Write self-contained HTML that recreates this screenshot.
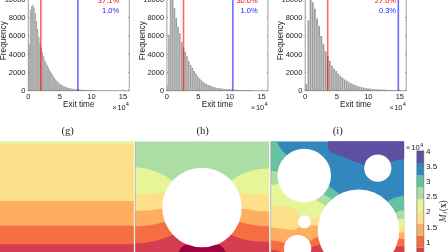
<!DOCTYPE html>
<html><head><meta charset="utf-8"><title>figure</title>
<style>html,body{margin:0;padding:0;background:#fff;overflow:hidden}body{width:448px;height:252px}</style></head>
<body>
<svg width="448" height="252" viewBox="0 0 448 252" style="display:block">
<rect width="448" height="252" fill="#fff"/>
<path d="M28.60 90.70 L28.60 44.00 L29.80 44.00 L29.80 9.70 L31.00 9.70 L31.00 6.35 L32.20 6.35 L32.20 4.56 L33.40 4.56 L33.40 7.27 L34.60 7.27 L34.60 13.00 L35.80 13.00 L35.80 21.11 L37.00 21.11 L37.00 29.10 L38.20 29.10 L38.20 36.63 L39.40 36.63 L39.40 42.91 L40.60 42.91 L40.60 48.20 L41.80 48.20 L41.80 52.58 L43.00 52.58 L43.00 56.37 L44.20 56.37 L44.20 60.17 L45.40 60.17 L45.40 62.80 L46.60 62.80 L46.60 65.20 L47.80 65.20 L47.80 67.60 L49.00 67.60 L49.00 70.00 L50.20 70.00 L50.20 72.11 L51.40 72.11 L51.40 74.08 L52.60 74.08 L52.60 76.05 L53.80 76.05 L53.80 78.02 L55.00 78.02 L55.00 79.60 L56.20 79.60 L56.20 80.80 L57.40 80.80 L57.40 82.00 L58.60 82.00 L58.60 83.20 L59.80 83.20 L59.80 84.21 L61.00 84.21 L61.00 84.84 L62.20 84.84 L62.20 85.46 L63.40 85.46 L63.40 86.09 L64.60 86.09 L64.60 86.72 L65.80 86.72 L65.80 87.34 L67.00 87.34 L67.00 87.70 L68.20 87.70 L68.20 87.98 L69.40 87.98 L69.40 88.25 L70.60 88.25 L70.60 88.52 L71.80 88.52 L71.80 88.75 L73.00 88.75 L73.00 88.89 L74.20 88.89 L74.20 89.03 L75.40 89.03 L75.40 89.17 L76.60 89.17 L76.60 89.31 L77.80 89.31 L77.80 89.43 L79.00 89.43 L79.00 89.53 L80.20 89.53 L80.20 89.63 L81.40 89.63 L81.40 89.73 L82.60 89.73 L82.60 89.83 L83.80 89.83 L83.80 89.92 L85.00 89.92 L85.00 89.97 L86.20 89.97 L86.20 90.02 L87.40 90.02 L87.40 90.08 L88.60 90.08 L88.60 90.13 L89.80 90.13 L89.80 90.18 L91.00 90.18 L91.00 90.23 L92.20 90.23 L92.20 90.28 L93.40 90.28 L93.40 90.31 L94.60 90.31 L94.60 90.35 L95.80 90.35 L95.80 90.39 L97.00 90.39 L97.00 90.70 Z" fill="#9c9c9c"/>
<path d="M28.60 90.70 V44.00 M29.80 90.70 V9.70 M31.00 90.70 V6.35 M32.20 90.70 V4.56 M33.40 90.70 V7.27 M34.60 90.70 V13.00 M35.80 90.70 V21.11 M37.00 90.70 V29.10 M38.20 90.70 V36.63 M39.40 90.70 V42.91 M40.60 90.70 V48.20 M41.80 90.70 V52.58 M43.00 90.70 V56.37 M44.20 90.70 V60.17 M45.40 90.70 V62.80 M46.60 90.70 V65.20 M47.80 90.70 V67.60 M49.00 90.70 V70.00 M50.20 90.70 V72.11 M51.40 90.70 V74.08 M52.60 90.70 V76.05 M53.80 90.70 V78.02 M55.00 90.70 V79.60 M56.20 90.70 V80.80 M57.40 90.70 V82.00 M58.60 90.70 V83.20 M59.80 90.70 V84.21 M61.00 90.70 V84.84 M62.20 90.70 V85.46 M63.40 90.70 V86.09 M64.60 90.70 V86.72 M65.80 90.70 V87.34 M67.00 90.70 V87.70 M68.20 90.70 V87.98 M69.40 90.70 V88.25 M70.60 90.70 V88.52 M71.80 90.70 V88.75 M73.00 90.70 V88.89 M74.20 90.70 V89.03 M75.40 90.70 V89.17 M76.60 90.70 V89.31 M77.80 90.70 V89.43 M79.00 90.70 V89.53 M80.20 90.70 V89.63 M81.40 90.70 V89.73 M82.60 90.70 V89.83 M83.80 90.70 V89.92 M85.00 90.70 V89.97 M86.20 90.70 V90.02 M87.40 90.70 V90.08 M88.60 90.70 V90.13 M89.80 90.70 V90.18 M91.00 90.70 V90.23 M92.20 90.70 V90.28 M93.40 90.70 V90.31 M94.60 90.70 V90.35 M95.80 90.70 V90.39 " stroke="#efefef" stroke-width="0.31" fill="none"/>
<path d="M28.30 -5 V90.70 H129.30 V-5" stroke="#6a6a6a" stroke-width="0.65" fill="none"/>
<path d="M28.30 90.70 h1.2 M129.30 90.70 h-1.2 M28.30 72.40 h1.2 M129.30 72.40 h-1.2 M28.30 54.10 h1.2 M129.30 54.10 h-1.2 M28.30 35.80 h1.2 M129.30 35.80 h-1.2 M28.30 17.50 h1.2 M129.30 17.50 h-1.2 M28.30 -0.80 h1.2 M129.30 -0.80 h-1.2 M28.30 90.70 v-1.2 M59.86 90.70 v-1.2 M91.43 90.70 v-1.2 M122.99 90.70 v-1.2 " stroke="#6a6a6a" stroke-width="0.65" fill="none"/>
<path d="M40.80 -5 V90.70" stroke="#f00" stroke-opacity="0.6" stroke-width="1.6"/>
<path d="M77.90 -5 V90.70" stroke="#00f" stroke-opacity="0.55" stroke-width="1.7"/>
<text x="25.50" y="93.20" font-family="'Liberation Sans', Arial, sans-serif" font-size="7.5" fill="#222" text-anchor="end">0</text>
<text x="25.50" y="74.90" font-family="'Liberation Sans', Arial, sans-serif" font-size="7.5" fill="#222" text-anchor="end">2000</text>
<text x="25.50" y="56.60" font-family="'Liberation Sans', Arial, sans-serif" font-size="7.5" fill="#222" text-anchor="end">4000</text>
<text x="25.50" y="38.30" font-family="'Liberation Sans', Arial, sans-serif" font-size="7.5" fill="#222" text-anchor="end">6000</text>
<text x="25.50" y="20.00" font-family="'Liberation Sans', Arial, sans-serif" font-size="7.5" fill="#222" text-anchor="end">8000</text>
<text x="25.50" y="1.70" font-family="'Liberation Sans', Arial, sans-serif" font-size="7.5" fill="#222" text-anchor="end">10000</text>
<text x="28.30" y="99.20" font-family="'Liberation Sans', Arial, sans-serif" font-size="7.5" fill="#222" text-anchor="middle">0</text>
<text x="59.86" y="99.20" font-family="'Liberation Sans', Arial, sans-serif" font-size="7.5" fill="#222" text-anchor="middle">5</text>
<text x="91.43" y="99.20" font-family="'Liberation Sans', Arial, sans-serif" font-size="7.5" fill="#222" text-anchor="middle">10</text>
<text x="122.99" y="99.20" font-family="'Liberation Sans', Arial, sans-serif" font-size="7.5" fill="#222" text-anchor="middle">15</text>
<text x="78.80" y="106.80" font-family="'Liberation Sans', Arial, sans-serif" font-size="8.2" fill="#222" text-anchor="middle">Exit time</text>
<text x="116.80" y="109.6" font-family="'Liberation Sans', Arial, sans-serif" font-size="7.8" fill="#444" text-anchor="end">×</text>
<text x="117.40" y="109.6" font-family="'Liberation Sans', Arial, sans-serif" font-size="7.3" fill="#222">10<tspan dy="-3.3" dx="0.3" font-size="5.7">4</tspan></text>
<text transform="translate(5.90 40.70) rotate(-90)" font-family="'Liberation Sans', Arial, sans-serif" font-size="8.3" fill="#222" text-anchor="middle">Frequency</text>
<text x="119.10" y="2.70" font-family="'Liberation Sans', Arial, sans-serif" font-size="7.5" fill="#f00" text-anchor="end">37.1%</text>
<text x="119.10" y="12.70" font-family="'Liberation Sans', Arial, sans-serif" font-size="7.5" fill="#1a1aff" text-anchor="end">1.0%</text>
<path d="M167.10 90.70 L167.10 85.00 L168.00 85.00 L168.00 34.80 L169.80 34.80 L169.80 -3.00 L171.60 -3.00 L171.60 -3.00 L173.40 -3.00 L173.40 8.00 L175.20 8.00 L175.20 17.90 L177.00 17.90 L177.00 26.80 L178.80 26.80 L178.80 33.00 L180.60 33.00 L180.60 42.00 L182.40 42.00 L182.40 47.40 L184.20 47.40 L184.20 51.73 L186.00 51.73 L186.00 56.15 L187.80 56.15 L187.80 60.90 L189.60 60.90 L189.60 65.00 L191.40 65.00 L191.40 68.09 L193.20 68.09 L193.20 71.03 L195.00 71.03 L195.00 73.78 L196.80 73.78 L196.80 76.54 L198.60 76.54 L198.60 78.48 L200.40 78.48 L200.40 80.25 L202.20 80.25 L202.20 82.02 L204.00 82.02 L204.00 83.32 L205.80 83.32 L205.80 84.16 L207.60 84.16 L207.60 85.00 L209.40 85.00 L209.40 85.80 L211.20 85.80 L211.20 86.39 L213.00 86.39 L213.00 86.98 L214.80 86.98 L214.80 87.57 L216.60 87.57 L216.60 88.06 L218.40 88.06 L218.40 88.28 L220.20 88.28 L220.20 88.51 L222.00 88.51 L222.00 88.73 L223.80 88.73 L223.80 88.95 L225.60 88.95 L225.60 89.18 L227.40 89.18 L227.40 89.30 L229.20 89.30 L229.20 89.42 L231.00 89.42 L231.00 89.54 L232.80 89.54 L232.80 89.65 L234.60 89.65 L234.60 89.77 L236.40 89.77 L236.40 89.85 L238.20 89.85 L238.20 89.92 L240.00 89.92 L240.00 90.00 L241.80 90.00 L241.80 90.07 L243.60 90.07 L243.60 90.14 L245.40 90.14 L245.40 90.21 L247.20 90.21 L247.20 90.26 L249.00 90.26 L249.00 90.32 L250.80 90.32 L250.80 90.37 L252.60 90.37 L252.60 90.70 Z" fill="#9c9c9c"/>
<path d="M167.10 90.70 V85.00 M168.00 90.70 V34.80 M169.80 90.70 V-3.00 M171.60 90.70 V-3.00 M173.40 90.70 V8.00 M175.20 90.70 V17.90 M177.00 90.70 V26.80 M178.80 90.70 V33.00 M180.60 90.70 V42.00 M182.40 90.70 V47.40 M184.20 90.70 V51.73 M186.00 90.70 V56.15 M187.80 90.70 V60.90 M189.60 90.70 V65.00 M191.40 90.70 V68.09 M193.20 90.70 V71.03 M195.00 90.70 V73.78 M196.80 90.70 V76.54 M198.60 90.70 V78.48 M200.40 90.70 V80.25 M202.20 90.70 V82.02 M204.00 90.70 V83.32 M205.80 90.70 V84.16 M207.60 90.70 V85.00 M209.40 90.70 V85.80 M211.20 90.70 V86.39 M213.00 90.70 V86.98 M214.80 90.70 V87.57 M216.60 90.70 V88.06 M218.40 90.70 V88.28 M220.20 90.70 V88.51 M222.00 90.70 V88.73 M223.80 90.70 V88.95 M225.60 90.70 V89.18 M227.40 90.70 V89.30 M229.20 90.70 V89.42 M231.00 90.70 V89.54 M232.80 90.70 V89.65 M234.60 90.70 V89.77 M236.40 90.70 V89.85 M238.20 90.70 V89.92 M240.00 90.70 V90.00 M241.80 90.70 V90.07 M243.60 90.70 V90.14 M245.40 90.70 V90.21 M247.20 90.70 V90.26 M249.00 90.70 V90.32 M250.80 90.70 V90.37 " stroke="#efefef" stroke-width="0.47" fill="none"/>
<path d="M166.90 -5 V90.70 H267.90 V-5" stroke="#6a6a6a" stroke-width="0.65" fill="none"/>
<path d="M166.90 90.70 h1.2 M267.90 90.70 h-1.2 M166.90 72.40 h1.2 M267.90 72.40 h-1.2 M166.90 54.10 h1.2 M267.90 54.10 h-1.2 M166.90 35.80 h1.2 M267.90 35.80 h-1.2 M166.90 17.50 h1.2 M267.90 17.50 h-1.2 M166.90 -0.80 h1.2 M267.90 -0.80 h-1.2 M166.90 90.70 v-1.2 M198.46 90.70 v-1.2 M230.02 90.70 v-1.2 M261.59 90.70 v-1.2 " stroke="#6a6a6a" stroke-width="0.65" fill="none"/>
<path d="M183.50 -5 V90.70" stroke="#f00" stroke-opacity="0.6" stroke-width="1.6"/>
<path d="M232.80 -5 V90.70" stroke="#00f" stroke-opacity="0.55" stroke-width="1.7"/>
<text x="164.10" y="93.20" font-family="'Liberation Sans', Arial, sans-serif" font-size="7.5" fill="#222" text-anchor="end">0</text>
<text x="164.10" y="74.90" font-family="'Liberation Sans', Arial, sans-serif" font-size="7.5" fill="#222" text-anchor="end">2000</text>
<text x="164.10" y="56.60" font-family="'Liberation Sans', Arial, sans-serif" font-size="7.5" fill="#222" text-anchor="end">4000</text>
<text x="164.10" y="38.30" font-family="'Liberation Sans', Arial, sans-serif" font-size="7.5" fill="#222" text-anchor="end">6000</text>
<text x="164.10" y="20.00" font-family="'Liberation Sans', Arial, sans-serif" font-size="7.5" fill="#222" text-anchor="end">8000</text>
<text x="164.10" y="1.70" font-family="'Liberation Sans', Arial, sans-serif" font-size="7.5" fill="#222" text-anchor="end">10000</text>
<text x="166.90" y="99.20" font-family="'Liberation Sans', Arial, sans-serif" font-size="7.5" fill="#222" text-anchor="middle">0</text>
<text x="198.46" y="99.20" font-family="'Liberation Sans', Arial, sans-serif" font-size="7.5" fill="#222" text-anchor="middle">5</text>
<text x="230.02" y="99.20" font-family="'Liberation Sans', Arial, sans-serif" font-size="7.5" fill="#222" text-anchor="middle">10</text>
<text x="261.59" y="99.20" font-family="'Liberation Sans', Arial, sans-serif" font-size="7.5" fill="#222" text-anchor="middle">15</text>
<text x="217.40" y="106.80" font-family="'Liberation Sans', Arial, sans-serif" font-size="8.2" fill="#222" text-anchor="middle">Exit time</text>
<text x="255.40" y="109.6" font-family="'Liberation Sans', Arial, sans-serif" font-size="7.8" fill="#444" text-anchor="end">×</text>
<text x="256.00" y="109.6" font-family="'Liberation Sans', Arial, sans-serif" font-size="7.3" fill="#222">10<tspan dy="-3.3" dx="0.3" font-size="5.7">4</tspan></text>
<text transform="translate(144.50 40.70) rotate(-90)" font-family="'Liberation Sans', Arial, sans-serif" font-size="8.3" fill="#222" text-anchor="middle">Frequency</text>
<text x="257.70" y="2.70" font-family="'Liberation Sans', Arial, sans-serif" font-size="7.5" fill="#f00" text-anchor="end">30.0%</text>
<text x="257.70" y="12.70" font-family="'Liberation Sans', Arial, sans-serif" font-size="7.5" fill="#1a1aff" text-anchor="end">1.0%</text>
<path d="M305.50 90.70 L305.50 84.00 L307.30 84.00 L307.30 20.29 L309.43 20.29 L309.43 -1.82 L311.56 -1.82 L311.56 2.36 L313.69 2.36 L313.69 8.73 L315.82 8.73 L315.82 18.53 L317.95 18.53 L317.95 26.02 L320.08 26.02 L320.08 35.92 L322.21 35.92 L322.21 43.76 L324.34 43.76 L324.34 51.31 L326.47 51.31 L326.47 56.13 L328.60 56.13 L328.60 60.73 L330.73 60.73 L330.73 65.74 L332.86 65.74 L332.86 68.82 L334.99 68.82 L334.99 70.95 L337.12 70.95 L337.12 73.72 L339.25 73.72 L339.25 76.17 L341.38 76.17 L341.38 77.80 L343.51 77.80 L343.51 79.41 L345.64 79.41 L345.64 80.79 L347.77 80.79 L347.77 82.16 L349.90 82.16 L349.90 83.24 L352.03 83.24 L352.03 84.25 L354.16 84.25 L354.16 85.24 L356.29 85.24 L356.29 85.95 L358.42 85.95 L358.42 86.66 L360.55 86.66 L360.55 87.37 L362.68 87.37 L362.68 87.84 L364.81 87.84 L364.81 88.20 L366.94 88.20 L366.94 88.56 L369.07 88.56 L369.07 88.86 L371.20 88.86 L371.20 89.04 L373.33 89.04 L373.33 89.22 L375.46 89.22 L375.46 89.39 L377.59 89.39 L377.59 89.51 L379.72 89.51 L379.72 89.62 L381.85 89.62 L381.85 89.74 L383.98 89.74 L383.98 89.85 L386.11 89.85 L386.11 89.94 L388.24 89.94 L388.24 90.02 L390.37 90.02 L390.37 90.09 L392.50 90.09 L392.50 90.16 L394.63 90.16 L394.63 90.24 L396.76 90.24 L396.76 90.32 L398.89 90.32 L398.89 90.39 L401.02 90.39 L401.02 90.70 Z" fill="#9c9c9c"/>
<path d="M305.50 90.70 V84.00 M307.30 90.70 V20.29 M309.43 90.70 V-1.82 M311.56 90.70 V2.36 M313.69 90.70 V8.73 M315.82 90.70 V18.53 M317.95 90.70 V26.02 M320.08 90.70 V35.92 M322.21 90.70 V43.76 M324.34 90.70 V51.31 M326.47 90.70 V56.13 M328.60 90.70 V60.73 M330.73 90.70 V65.74 M332.86 90.70 V68.82 M334.99 90.70 V70.95 M337.12 90.70 V73.72 M339.25 90.70 V76.17 M341.38 90.70 V77.80 M343.51 90.70 V79.41 M345.64 90.70 V80.79 M347.77 90.70 V82.16 M349.90 90.70 V83.24 M352.03 90.70 V84.25 M354.16 90.70 V85.24 M356.29 90.70 V85.95 M358.42 90.70 V86.66 M360.55 90.70 V87.37 M362.68 90.70 V87.84 M364.81 90.70 V88.20 M366.94 90.70 V88.56 M369.07 90.70 V88.86 M371.20 90.70 V89.04 M373.33 90.70 V89.22 M375.46 90.70 V89.39 M377.59 90.70 V89.51 M379.72 90.70 V89.62 M381.85 90.70 V89.74 M383.98 90.70 V89.85 M386.11 90.70 V89.94 M388.24 90.70 V90.02 M390.37 90.70 V90.09 M392.50 90.70 V90.16 M394.63 90.70 V90.24 M396.76 90.70 V90.32 M398.89 90.70 V90.39 " stroke="#efefef" stroke-width="0.55" fill="none"/>
<path d="M305.20 -5 V90.70 H406.20 V-5" stroke="#6a6a6a" stroke-width="0.65" fill="none"/>
<path d="M305.20 90.70 h1.2 M406.20 90.70 h-1.2 M305.20 72.40 h1.2 M406.20 72.40 h-1.2 M305.20 54.10 h1.2 M406.20 54.10 h-1.2 M305.20 35.80 h1.2 M406.20 35.80 h-1.2 M305.20 17.50 h1.2 M406.20 17.50 h-1.2 M305.20 -0.80 h1.2 M406.20 -0.80 h-1.2 M305.20 90.70 v-1.2 M336.76 90.70 v-1.2 M368.32 90.70 v-1.2 M399.89 90.70 v-1.2 " stroke="#6a6a6a" stroke-width="0.65" fill="none"/>
<path d="M327.70 -5 V90.70" stroke="#f00" stroke-opacity="0.6" stroke-width="1.6"/>
<path d="M398.30 -5 V90.70" stroke="#00f" stroke-opacity="0.55" stroke-width="1.7"/>
<text x="302.40" y="93.20" font-family="'Liberation Sans', Arial, sans-serif" font-size="7.5" fill="#222" text-anchor="end">0</text>
<text x="302.40" y="74.90" font-family="'Liberation Sans', Arial, sans-serif" font-size="7.5" fill="#222" text-anchor="end">2000</text>
<text x="302.40" y="56.60" font-family="'Liberation Sans', Arial, sans-serif" font-size="7.5" fill="#222" text-anchor="end">4000</text>
<text x="302.40" y="38.30" font-family="'Liberation Sans', Arial, sans-serif" font-size="7.5" fill="#222" text-anchor="end">6000</text>
<text x="302.40" y="20.00" font-family="'Liberation Sans', Arial, sans-serif" font-size="7.5" fill="#222" text-anchor="end">8000</text>
<text x="302.40" y="1.70" font-family="'Liberation Sans', Arial, sans-serif" font-size="7.5" fill="#222" text-anchor="end">10000</text>
<text x="305.20" y="99.20" font-family="'Liberation Sans', Arial, sans-serif" font-size="7.5" fill="#222" text-anchor="middle">0</text>
<text x="336.76" y="99.20" font-family="'Liberation Sans', Arial, sans-serif" font-size="7.5" fill="#222" text-anchor="middle">5</text>
<text x="368.32" y="99.20" font-family="'Liberation Sans', Arial, sans-serif" font-size="7.5" fill="#222" text-anchor="middle">10</text>
<text x="399.89" y="99.20" font-family="'Liberation Sans', Arial, sans-serif" font-size="7.5" fill="#222" text-anchor="middle">15</text>
<text x="355.70" y="106.80" font-family="'Liberation Sans', Arial, sans-serif" font-size="8.2" fill="#222" text-anchor="middle">Exit time</text>
<text x="393.70" y="109.6" font-family="'Liberation Sans', Arial, sans-serif" font-size="7.8" fill="#444" text-anchor="end">×</text>
<text x="394.30" y="109.6" font-family="'Liberation Sans', Arial, sans-serif" font-size="7.3" fill="#222">10<tspan dy="-3.3" dx="0.3" font-size="5.7">4</tspan></text>
<text transform="translate(282.80 40.70) rotate(-90)" font-family="'Liberation Sans', Arial, sans-serif" font-size="8.3" fill="#222" text-anchor="middle">Frequency</text>
<text x="396.00" y="2.70" font-family="'Liberation Sans', Arial, sans-serif" font-size="7.5" fill="#f00" text-anchor="end">27.0%</text>
<text x="396.00" y="12.70" font-family="'Liberation Sans', Arial, sans-serif" font-size="7.5" fill="#1a1aff" text-anchor="end">0.3%</text>
<text x="67.60" y="133.70" font-family="'Liberation Serif', 'Times New Roman', serif" font-size="10.6" fill="#222" text-anchor="middle">(g)</text>
<text x="202.60" y="133.70" font-family="'Liberation Serif', 'Times New Roman', serif" font-size="10.6" fill="#222" text-anchor="middle">(h)</text>
<text x="337.80" y="133.70" font-family="'Liberation Serif', 'Times New Roman', serif" font-size="10.6" fill="#222" text-anchor="middle">(i)</text>
<g>
<rect x="0" y="141.30" width="133.7" height="110.70" fill="#E6F598"/>
<rect x="0" y="143.70" width="133.7" height="108.30" fill="#FEE08B"/>
<rect x="0" y="200.90" width="133.7" height="51.10" fill="#FDAE61"/>
<rect x="0" y="225.70" width="133.7" height="26.30" fill="#F46D43"/>
<rect x="0" y="244.30" width="133.7" height="7.70" fill="#D53E4F"/>
</g>
<clipPath id="c2"><rect x="135.10" y="141.30" width="134.20" height="110.70"/></clipPath>
<g clip-path="url(#c2)">
<rect x="135.10" y="141.30" width="134.20" height="110.70" fill="#ABDDA4"/>
<path d="M135.10 166.90 Q158.00 168.50 172.90 181.20 L202.00 260 L135.10 260 Z" fill="#E6F598"/>
<path d="M269.30 168.60 Q246.15 168.50 231.25 181.20 L202.00 260 L269.30 260 Z" fill="#E6F598"/>
<path d="M135.10 194.30 Q150.00 194.30 165.00 192.20 L202.00 260 L135.10 260 Z" fill="#FEE08B"/>
<path d="M269.30 194.70 Q254.15 194.30 239.15 192.20 L202.00 260 L269.30 260 Z" fill="#FEE08B"/>
<path d="M135.10 211.10 Q148.00 211.00 162.20 208.40 L202.00 260 L135.10 260 Z" fill="#FDAE61"/>
<path d="M269.30 211.50 Q256.15 211.00 241.95 208.40 L202.00 260 L269.30 260 Z" fill="#FDAE61"/>
<path d="M135.10 226.40 Q150.00 226.20 164.30 222.00 L202.00 260 L135.10 260 Z" fill="#F46D43"/>
<path d="M269.30 226.40 Q254.15 226.20 239.85 222.00 L202.00 260 L269.30 260 Z" fill="#F46D43"/>
<path d="M135.10 243.40 Q156.00 243.00 173.50 234.40 L202.00 260 L135.10 260 Z" fill="#D53E4F"/>
<path d="M269.30 241.60 Q248.15 243.00 230.65 234.40 L202.00 260 L269.30 260 Z" fill="#D53E4F"/>
<path d="M177.80 253 Q181.50 246.5 184.80 244.5 L219.40 244.5 Q223.00 246.5 226.60 253 Z" fill="#9E0142"/>
<circle cx="202.00" cy="207.50" r="39.80" fill="#fff"/>
</g>
<clipPath id="c3"><rect x="271.10" y="141.30" width="133.10" height="110.70"/></clipPath>
<g clip-path="url(#c3)">
<rect x="271.10" y="141.30" width="133.10" height="110.70" fill="#3288BD"/>
<path d="M327.6 140 L328.2 148.5 Q328.8 151.6 332 152.8 L345.8 157.8 L355.3 161.8 L361.7 164.2 L366 166 L390 166 L390.4 161.8 Q397 159.4 405 159.0 L405 140 Z" fill="#5E4FA2"/>
<path d="M270 140 L276.6 140 Q279 149 286.5 154.5 L300 176 L270 176 Z" fill="#66C2A5"/>
<path d="M270 170.7 Q274 170.9 278 172 L300 176 L300 260 L270 260 Z" fill="#ABDDA4"/>
<path d="M270 185 Q275 184.8 279 183.7 L300 190 L300 260 L270 260Z" fill="#E6F598"/>
<path d="M329.4 186.3 L338.3 192.9 L345 230 L300 230 L300 176 Z" fill="#66C2A5"/>
<path d="M323.5 194.3 L331.2 198.4 L345 230 L300 230 L300 180 Z" fill="#ABDDA4"/>
<path d="M315.9 199.8 L324.8 205.6 L345 230 L290 230 L290 190 Z" fill="#E6F598"/>
<path d="M270 207.2 Q276 206.2 280.4 206.2 Q286 206 289.9 206.7 Q293.5 207.8 295.6 210.3 L300 215.5 L304 222 L309.8 219.3 Q314 217.5 319.5 217 L330 230 L330 260 L270 260 Z" fill="#FEE08B"/>
<path d="M270 227.1 Q277 228 283.9 229.1 Q290 230.2 295 229.8 Q298 229 299.7 226.3 L304 222 L310.5 225.5 L320 225.5 L330 240 L330 260 L270 260 Z" fill="#FDAE61"/>
<path d="M270 240.3 Q278 240.8 285.1 243 L297 249 L309.6 241.4 Q314 237.5 320.5 235.8 L330 245 L330 260 L270 260 Z" fill="#F46D43"/>
<path d="M270 249.3 Q278 250 284 253 L297 253 L310.5 247.7 Q315 245 322 243.7 L330 250 L330 260 L270 260 Z" fill="#D53E4F"/>
<path d="M388.9 200.7 Q395 196.5 405 195.6 L405 260 L380 260 L380 215 Z" fill="#66C2A5"/>
<path d="M394.3 212.9 Q399 210.5 405 210 L405 260 L380 260 L380 215 Z" fill="#ABDDA4"/>
<path d="M396.4 220 Q400 219 405 218.6 L405 260 L380 260 L380 225 Z" fill="#E6F598"/>
<rect x="385" y="226.00" width="20" height="30" fill="#FEE08B"/>
<rect x="385" y="232.40" width="20" height="30" fill="#FDAE61"/>
<rect x="385" y="238.90" width="20" height="30" fill="#F46D43"/>
<rect x="385" y="246.40" width="20" height="30" fill="#D53E4F"/>
<circle cx="304.20" cy="175.60" r="26.80" fill="#fff"/>
<circle cx="358.50" cy="230.40" r="40.90" fill="#fff"/>
<circle cx="377.80" cy="168.20" r="13.60" fill="#fff"/>
<circle cx="304.40" cy="221.80" r="6.50" fill="#fff"/>
<circle cx="297.60" cy="248.60" r="13.70" fill="#fff"/>
</g>
<path d="M135.2 141.3 V252 M270.7 141.3 V252" stroke="#999" stroke-width="0.6" fill="none"/>
<rect x="416.80" y="259.62" width="7.00" height="12.18" fill="#9E0142"/>
<rect x="416.80" y="247.54" width="7.00" height="12.18" fill="#D53E4F"/>
<rect x="416.80" y="235.46" width="7.00" height="12.18" fill="#F46D43"/>
<rect x="416.80" y="223.38" width="7.00" height="12.18" fill="#FDAE61"/>
<rect x="416.80" y="211.30" width="7.00" height="12.18" fill="#FEE08B"/>
<rect x="416.80" y="199.22" width="7.00" height="12.18" fill="#E6F598"/>
<rect x="416.80" y="187.14" width="7.00" height="12.18" fill="#ABDDA4"/>
<rect x="416.80" y="175.06" width="7.00" height="12.18" fill="#66C2A5"/>
<rect x="416.80" y="162.98" width="7.00" height="12.18" fill="#3288BD"/>
<rect x="416.80" y="150.90" width="7.00" height="12.18" fill="#5E4FA2"/>
<path d="M416.80 260 V150.90 H423.80 V260" stroke="#555" stroke-width="0.5" fill="none"/>
<text x="426.00" y="154.00" font-family="'Liberation Sans', Arial, sans-serif" font-size="8.1" fill="#222">4</text>
<path d="M423.80 150.90 h-1" stroke="#555" stroke-width="0.5"/>
<text x="426.00" y="169.10" font-family="'Liberation Sans', Arial, sans-serif" font-size="8.1" fill="#222">3.5</text>
<path d="M423.80 166.00 h-1" stroke="#555" stroke-width="0.5"/>
<text x="426.00" y="184.20" font-family="'Liberation Sans', Arial, sans-serif" font-size="8.1" fill="#222">3</text>
<path d="M423.80 181.10 h-1" stroke="#555" stroke-width="0.5"/>
<text x="426.00" y="199.30" font-family="'Liberation Sans', Arial, sans-serif" font-size="8.1" fill="#222">2.5</text>
<path d="M423.80 196.20 h-1" stroke="#555" stroke-width="0.5"/>
<text x="426.00" y="214.40" font-family="'Liberation Sans', Arial, sans-serif" font-size="8.1" fill="#222">2</text>
<path d="M423.80 211.30 h-1" stroke="#555" stroke-width="0.5"/>
<text x="426.00" y="229.50" font-family="'Liberation Sans', Arial, sans-serif" font-size="8.1" fill="#222">1.5</text>
<path d="M423.80 226.40 h-1" stroke="#555" stroke-width="0.5"/>
<text x="426.00" y="244.60" font-family="'Liberation Sans', Arial, sans-serif" font-size="8.1" fill="#222">1</text>
<path d="M423.80 241.50 h-1" stroke="#555" stroke-width="0.5"/>
<text x="410.4" y="150.4" font-family="'Liberation Sans', Arial, sans-serif" font-size="8" fill="#444" text-anchor="end">×</text>
<text x="411.2" y="150.3" font-family="'Liberation Sans', Arial, sans-serif" font-size="7.6" fill="#222">10<tspan dy="-3.4" dx="0.3" font-size="5.9">4</tspan></text>
<text transform="translate(445.50 211.30) rotate(-90)" font-family="'Liberation Serif', 'Times New Roman', serif" font-size="9.4" font-style="italic" fill="#444" text-anchor="middle">M<tspan dy="1.7" font-size="6.6">1</tspan><tspan dy="-1.7" font-style="normal">(</tspan><tspan font-style="normal" font-weight="bold">x</tspan><tspan font-style="normal">)</tspan></text>
</svg>
</body></html>
